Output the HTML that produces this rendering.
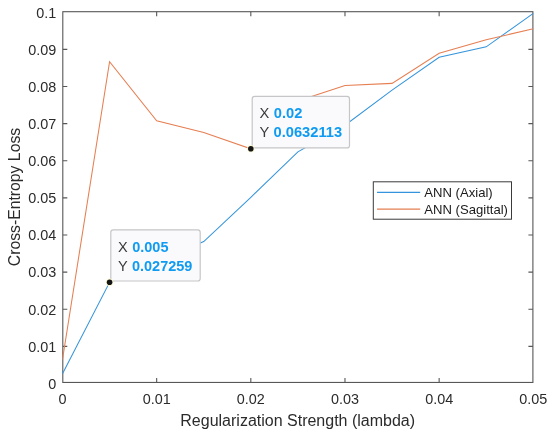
<!DOCTYPE html>
<html lang="en">
<head>
<meta charset="utf-8">
<title>Cross-Entropy Loss vs Regularization Strength</title>
<style>
html,body{margin:0;padding:0;background:#fff;}
body{width:550px;height:433px;overflow:hidden;}
svg{display:block;}
svg text{font-family:"Liberation Sans",Arial,Helvetica,sans-serif;}
.tk{font-size:14.4px;fill:#2b2b2b;}
.lb{font-size:16px;fill:#2b2b2b;}
.lg{font-size:13.1px;fill:#1a1a1a;}
.tp{font-size:14.7px;fill:#3a3a3a;}
.tp .v{font-weight:bold;fill:#0f9bf2;}
</style>
</head>
<body>
<svg width="550" height="433" viewBox="0 0 550 433">
<rect x="0" y="0" width="550" height="433" fill="#ffffff"/>
<clipPath id="cp"><rect x="62.199999999999996" y="11.1" width="471.30" height="371.95"/></clipPath>
<rect x="62.8" y="11.7" width="470.10" height="370.75" fill="none" stroke="#575757" stroke-width="1.1"/>
<path d="M156.66,382.45v-4.5M156.66,11.7v4.5M250.82,382.45v-4.5M250.82,11.7v4.5M344.98,382.45v-4.5M344.98,11.7v4.5M439.14,382.45v-4.5M439.14,11.7v4.5M62.8,346.37h4.5M532.9,346.37h-4.5M62.8,309.24h4.5M532.9,309.24h-4.5M62.8,272.11h4.5M532.9,272.11h-4.5M62.8,234.98h4.5M532.9,234.98h-4.5M62.8,197.85h4.5M532.9,197.85h-4.5M62.8,160.72h4.5M532.9,160.72h-4.5M62.8,123.59h4.5M532.9,123.59h-4.5M62.8,86.46h4.5M532.9,86.46h-4.5M62.8,49.33h4.5M532.9,49.33h-4.5" fill="none" stroke="#575757" stroke-width="1.1"/>
<g clip-path="url(#cp)"><polyline points="62.50,373.77 109.58,282.29 156.66,261.71 203.74,241.51 250.82,197.26 297.90,151.81 344.98,125.19 392.06,90.17 439.14,57.20 486.22,46.81 533.30,13.31" fill="none" stroke="#3595dc" stroke-width="1.05" stroke-linejoin="miter"/>
<polyline points="62.50,359.37 109.58,61.77 156.66,120.81 203.74,132.50 250.82,148.80 297.90,100.94 344.98,85.49 392.06,83.38 439.14,53.19 486.22,39.68 533.30,28.80" fill="none" stroke="#e67f52" stroke-width="1.05" stroke-linejoin="miter"/></g>
<text class="tk" x="62.50" y="403.7" text-anchor="middle">0</text>
<text class="tk" x="156.66" y="403.7" text-anchor="middle">0.01</text>
<text class="tk" x="250.82" y="403.7" text-anchor="middle">0.02</text>
<text class="tk" x="344.98" y="403.7" text-anchor="middle">0.03</text>
<text class="tk" x="439.14" y="403.7" text-anchor="middle">0.04</text>
<text class="tk" x="533.30" y="403.7" text-anchor="middle">0.05</text>
<text class="tk" x="56.3" y="388.80" text-anchor="end">0</text>
<text class="tk" x="56.3" y="351.67" text-anchor="end">0.01</text>
<text class="tk" x="56.3" y="314.54" text-anchor="end">0.02</text>
<text class="tk" x="56.3" y="277.41" text-anchor="end">0.03</text>
<text class="tk" x="56.3" y="240.28" text-anchor="end">0.04</text>
<text class="tk" x="56.3" y="203.15" text-anchor="end">0.05</text>
<text class="tk" x="56.3" y="166.02" text-anchor="end">0.06</text>
<text class="tk" x="56.3" y="128.89" text-anchor="end">0.07</text>
<text class="tk" x="56.3" y="91.76" text-anchor="end">0.08</text>
<text class="tk" x="56.3" y="54.63" text-anchor="end">0.09</text>
<text class="tk" x="56.3" y="17.50" text-anchor="end">0.1</text>
<text class="lb" x="297.7" y="425.7" text-anchor="middle">Regularization Strength (lambda)</text>
<text class="lb" style="font-size:15.75px" transform="translate(19.9,197.0) rotate(-90)" text-anchor="middle">Cross-Entropy Loss</text>
<rect x="373.3" y="181.8" width="138.2" height="37.4" fill="#ffffff" stroke="#3a3a3a" stroke-width="1"/>
<line x1="377" y1="192.4" x2="420.2" y2="192.4" stroke="#3595dc" stroke-width="1.1"/>
<line x1="377" y1="209.15" x2="420.2" y2="209.15" stroke="#e67f52" stroke-width="1.1"/>
<text class="lg" x="424.3" y="196.9">ANN (Axial)</text>
<text class="lg" x="424.3" y="213.6">ANN (Sagittal)</text>
<rect x="110.8" y="229.85" width="89.4" height="51.15" rx="2.5" ry="2.5" fill="#fafafc" stroke="#c6c6c8" stroke-width="1.2"/>
<circle cx="109.58" cy="282.29" r="3.7" fill="#fbf8d0" opacity="0.9"/>
<circle cx="109.58" cy="282.29" r="2.8" fill="#151515"/>
<text class="tp" style="font-size:14.5px" x="118.10" y="251.70">X <tspan class="v" dx="0.4">0.005</tspan></text>
<text class="tp" style="font-size:14.5px" x="118.10" y="270.70">Y <tspan class="v" dx="0.4">0.027259</tspan></text>
<rect x="252.2" y="96.4" width="97.3" height="51.5" rx="2.5" ry="2.5" fill="#fafafc" stroke="#c6c6c8" stroke-width="1.2"/>
<circle cx="250.82" cy="148.80" r="3.7" fill="#fbf8d0" opacity="0.9"/>
<circle cx="250.82" cy="148.80" r="2.8" fill="#151515"/>
<text class="tp" style="font-size:14.7px" x="259.50" y="117.70">X <tspan class="v" dx="0.4">0.02</tspan></text>
<text class="tp" style="font-size:14.7px" x="259.50" y="136.70">Y <tspan class="v" dx="0.4">0.0632113</tspan></text>
</svg>
</body>
</html>
